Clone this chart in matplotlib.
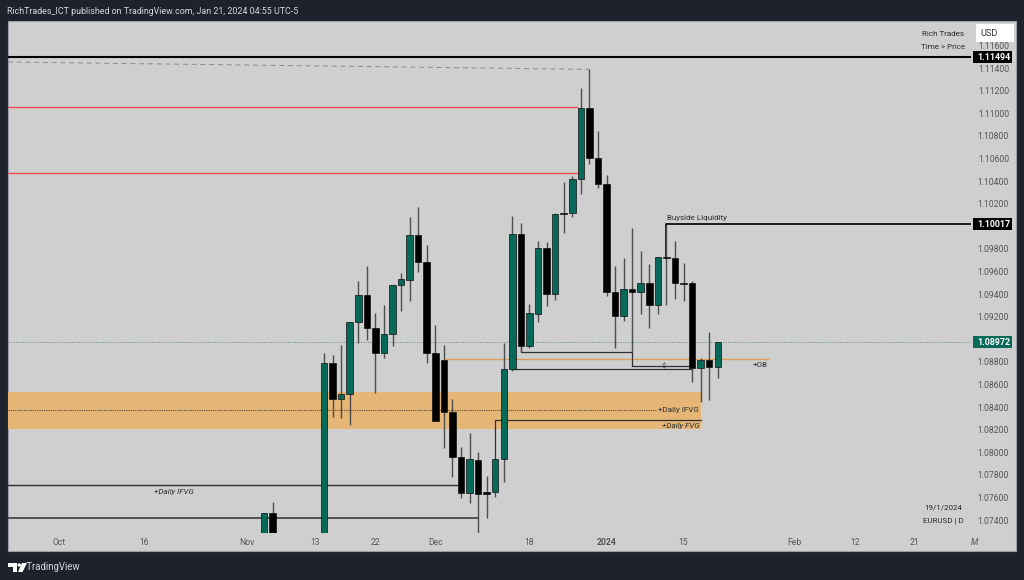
import matplotlib
matplotlib.use('Agg')
import matplotlib.pyplot as plt
from matplotlib.patches import Rectangle, Polygon, Circle
from matplotlib.transforms import blended_transform_factory

plt.rcParams['font.family'] = ['Roboto', 'DejaVu Sans']

# daily EURUSD candles, bar number counted from the big Nov 14 candle
bar_idx = [-7, -6] + list(range(0, 47))
opens = [1.07282, 1.07459,
         1.07282, 1.08787, 1.08471, 1.08515, 1.09155, 1.09388, 1.09102, 1.08875, 1.09043, 1.09480,
         1.09524, 1.09922, 1.09683, 1.08875, 1.08816, 1.08353, 1.07960, 1.07636, 1.07931, 1.07645,
         1.07645, 1.07937, 1.08736, 1.09928, 1.08940, 1.09226, 1.09810, 1.09403, 1.10119, 1.10117,
         1.10415, 1.11046, 1.10601, 1.10373, 1.09418, 1.09205, 1.09441, 1.09415, 1.09495, 1.09303,
         1.09725, 1.09716, 1.09497, 1.09500, 1.08742, 1.08816, 1.08754]
closes = [1.07459, 1.07282,
          1.08787, 1.08471, 1.08515, 1.09155, 1.09388, 1.09102, 1.08875, 1.09043, 1.09482, 1.09530,
          1.09922, 1.09683, 1.08875, 1.08279, 1.08353, 1.07960, 1.07636, 1.07937, 1.07630, 1.07630,
          1.07937, 1.08736, 1.09928, 1.08942, 1.09229, 1.09810, 1.09400, 1.10111, 1.10105, 1.10415,
          1.11046, 1.10601, 1.10373, 1.09418, 1.09205, 1.09444, 1.09418, 1.09495, 1.09303, 1.09725,
          1.09719, 1.09495, 1.09492, 1.08748, 1.08816, 1.08754, 1.08972]
highs = [1.07459, 1.07562,
         1.08875, 1.08860, 1.08949, 1.09155, 1.09518, 1.09648, 1.09229, 1.09300, 1.09482, 1.09588,
         1.10084, 1.10167, 1.09834, 1.09126, 1.08949, 1.08468, 1.08043, 1.08172, 1.07999, 1.07789,
         1.07937, 1.08964, 1.10090, 1.10031, 1.09309, 1.09869, 1.09860, 1.10119, 1.10394, 1.10444,
         1.11226, 1.11388, 1.10842, 1.10453, 1.09650, 1.09716, 1.09981, 1.09783, 1.09663, 1.09728,
         1.10004, 1.09869, 1.09677, 1.09515, 1.08836, 1.09064, 1.08972]
lows = [1.07282, 1.07282,
        1.07282, 1.08309, 1.08300, 1.08241, 1.08964, 1.08993, 1.08521, 1.08836, 1.08942, 1.09249,
        1.09341, 1.09597, 1.08787, 1.08279, 1.08034, 1.07778, 1.07592, 1.07548, 1.07282, 1.07415,
        1.07606, 1.07733, 1.08718, 1.08887, 1.08922, 1.09150, 1.09296, 1.09347, 1.09937, 1.10084,
        1.10282, 1.10548, 1.10341, 1.09382, 1.08925, 1.09161, 1.08887, 1.09223, 1.09102, 1.09223,
        1.09303, 1.09356, 1.09338, 1.08618, 1.08441, 1.08462, 1.08654]

# 1.09000 and 1.10000 sit under the price tags in the original
price_ticks = [1.07400, 1.07600, 1.07800, 1.08000, 1.08200, 1.08400, 1.08600, 1.08800,
               1.09200, 1.09400, 1.09600, 1.09800, 1.10200, 1.10400, 1.10600, 1.10800,
               1.11000, 1.11200, 1.11400, 1.11600]
date_ticks = [-31, -21, -9, -1, 6, 13, 24, 33, 42, 55, 62, 69, 76]
date_labels = ['Oct', '16', 'Nov', '13', '22', 'Dec', '18', '2024', '15', 'Feb', '12', '21', 'M']

# drawn levels
top_level = 1.11494
buyside_level = 1.10017
last_price = 1.08972
red_levels = [1.11058, 1.10468]
zone_top, zone_mid, zone_bottom = 1.08535, 1.08371, 1.08208
ob_level = 1.08825
fvg_level = 1.08285
dollar_level = 1.08763
low_level_a = 1.08887
low_level_b = 1.08733
ifvg_level = 1.07707
bottom_level = 1.07415

dark = '#1e222d'
panel = '#cfcfcf'
green = '#07695a'
ink = '#303030'
orange = '#e5b676'

fig = plt.figure(figsize=(10.24, 5.8), dpi=100, facecolor=dark)
fig.add_artist(Rectangle((8/1024, 1 - 551/580), 1008/1024, 530/580, transform=fig.transFigure,
                         facecolor=panel, edgecolor='#9a9ea6', linewidth=0.8, zorder=-1))

ax = fig.add_axes([8/1024, 1 - 533/580, 1008/1024, 512/580])
ax.patch.set_alpha(0)
for s in ax.spines.values():
    s.set_visible(False)
ax.set_xlim(-36.92, 80.84)
ax.set_ylim(1.07285, 1.11816)
left, chart_end = -36.92, 75.5

# levels behind the candles
ax.fill_between([left, 44], zone_bottom, zone_top, color=orange, lw=0, zorder=1)
ax.plot([left, 38.8], [zone_mid, zone_mid], color='#5a4a30', lw=0.8, ls=(0, (1, 1)), zorder=1.5)
ax.plot([left, chart_end], [top_level, top_level], color='#000000', lw=1.5, zorder=2)
ax.plot([left, 31], [1.11453, 1.11388], color='#8a8a8a', lw=0.7, ls=(0, (5, 4)), zorder=2)
for lvl in red_levels:
    ax.plot([left, 29.6], [lvl, lvl], color='#ee4b55', lw=1.0, zorder=2, snap=True)
ax.plot([left, chart_end], [last_price, last_price], color='#5f8a85', lw=0.7, ls=(0, (1, 1.5)), zorder=2)
ax.plot([40, 40, chart_end], [1.09725, buyside_level, buyside_level], color='#111111', lw=1.3, zorder=2)
ax.plot([14.3, 51.9], [ob_level, ob_level], color='#dd9f55', lw=1.0, zorder=2)
ax.plot([20, 20, 44], [1.07937, fvg_level, fvg_level], color=ink, lw=0.9, zorder=2)
ax.plot([23, 23, 36, 36, 43], [1.08942, low_level_a, low_level_a, dollar_level, dollar_level],
        color=ink, lw=0.9, zorder=2)
ax.plot([22, 43], [low_level_b, low_level_b], color=ink, lw=0.9, zorder=2)
ax.plot([left, 16], [ifvg_level, ifvg_level], color=ink, lw=1.0, zorder=2)
ax.plot([left, 18], [bottom_level, bottom_level], color=ink, lw=1.1, zorder=2)

# candles
for i, o, h, l, c in zip(bar_idx, opens, highs, lows, closes):
    col = green if c >= o else '#000000'
    ax.vlines(i, l, h, color='#4d4d4d', lw=1.0, zorder=3)
    ax.bar(i, abs(c - o), bottom=min(o, c), width=0.76, color=col, edgecolor='#101010', linewidth=0.5, zorder=4)

ax.set_yticks(price_ticks)
ax.set_yticklabels(['%.5f' % p for p in price_ticks], ha='right', color='#555555', fontsize=6.2)
ax.yaxis.tick_right()
ax.tick_params(axis='y', length=0, pad=-5)
ax.set_xticks(date_ticks)
ax.set_xticklabels(date_labels, color='#555555', fontsize=6.2)
ax.get_xticklabels()[-1].set_style('italic')
ax.get_xticklabels()[7].set_fontweight('bold')
ax.tick_params(axis='x', length=0, pad=3.5)

note = dict(color='#2c2c2c', fontsize=5.8, va='center', zorder=6)
ax.text(40.1, 1.1007, 'Buyside Liquidity', ha='left', **note)
ax.text(51, 1.08772, '+OB', ha='center', **note)
ax.text(39.7, dollar_level, '$', ha='center', **dict(note, color='#555555'))
ax.text(41.4, 1.08370, '+Daily IFVG', ha='center', **note)
ax.text(41.7, 1.08228, '+Daily FVG', ha='center', style='italic', **note)
ax.text(-17.5, 1.07650, '+Daily IFVG', ha='center', style='italic', **note)
ax.text(72.3, 1.07508, '19/1/2024', ha='center', **note)
ax.text(72.3, 1.07395, 'EURUSD | D', ha='center', **note)
ax.text(72.3, 1.11703, 'Rich Trades', ha='center', **note)
ax.text(72.3, 1.11588, 'Time > Price', ha='center', **note)

# price tags on the axis
tag_tf = blended_transform_factory(ax.transAxes, ax.transData)


def price_tag(price, face):
    h = 0.00053
    ax.add_patch(Rectangle((0.957, price - h), 0.0395, 2 * h, transform=tag_tf, facecolor=face,
                           edgecolor='none', zorder=7))
    ax.text(0.9945, price, '%.5f' % price, transform=tag_tf, ha='right', va='center', color='white',
            fontsize=6.4, fontweight='bold', zorder=8)


price_tag(top_level, '#000000')
price_tag(buyside_level, '#000000')
price_tag(last_price, green)

# frame items outside the price scale, in pixels
over = fig.add_axes([0, 0, 1, 1], zorder=5)
over.set_xlim(0, 1024)
over.set_ylim(580, 0)
over.axis('off')
over.add_patch(Rectangle((976, 24), 38, 18, facecolor='white', edgecolor='none'))
over.text(989, 33, 'USD', ha='center', va='center', fontsize=6.6, color='#333333')
over.text(7, 11, 'RichTrades_ICT published on TradingView.com, Jan 21, 2024 04:55 UTC-5', ha='left', va='center',
          fontsize=6.4, color='#d6d8de')
over.add_patch(Polygon([(8, 563), (17, 563), (17, 572), (13, 572), (13, 566.5), (8, 566.5)], facecolor='white', edgecolor='none'))
over.add_patch(Circle((19.2, 565), 1.7, facecolor='white', edgecolor='none'))
over.add_patch(Polygon([(22, 563), (27, 563), (22.5, 572), (18, 572)], facecolor='white', edgecolor='none'))
over.text(24, 567.5, ' TradingView', ha='left', va='center', fontsize=6.9, color='#d6d8de')

fig.savefig('out.png', dpi=100, facecolor=dark)
